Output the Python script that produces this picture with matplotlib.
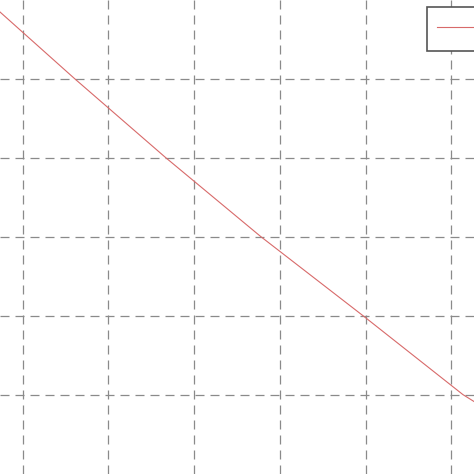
import matplotlib
matplotlib.use("Agg")
import matplotlib.pyplot as plt

# data
x_ticks = [0, 1, 2, 3, 4, 5]
y_ticks = [1, 2, 3, 4, 5]
line_x = [-0.265, 0.610, 1.672, 2.781, 3.971, 5.137, 5.27]
line_y = [5.849, 5.0, 4.0, 3.0, 2.0, 1.0, 0.91]
series_label = "series"

fig = plt.figure(figsize=(4.74, 4.74), dpi=100)
ax = fig.add_axes([0, 0, 1, 1])
ax.plot(line_x, line_y, color="#d86a6a", lw=0.8, label=series_label)
ax.set_xlim(-0.265, 5.266)
ax.set_ylim(-0.006, 6.001)
ax.set_xticks(x_ticks)
ax.set_yticks(y_ticks)
ax.tick_params(length=0, labelbottom=False, labelleft=False)
for s in ax.spines.values():
    s.set_visible(False)
ax.grid(True, color="#8a8a8a", lw=0.9, linestyle=(0, (7.2, 4.8)))
ax.set_axisbelow(True)
leg = ax.legend(loc="upper left", bbox_to_anchor=(427 / 474, 1 - 7 / 474),
                borderaxespad=0, fontsize=18, fancybox=False, framealpha=1,
                edgecolor="#555555")
leg.get_frame().set_linewidth(1.2)
fig.savefig("out.png", dpi=100)
